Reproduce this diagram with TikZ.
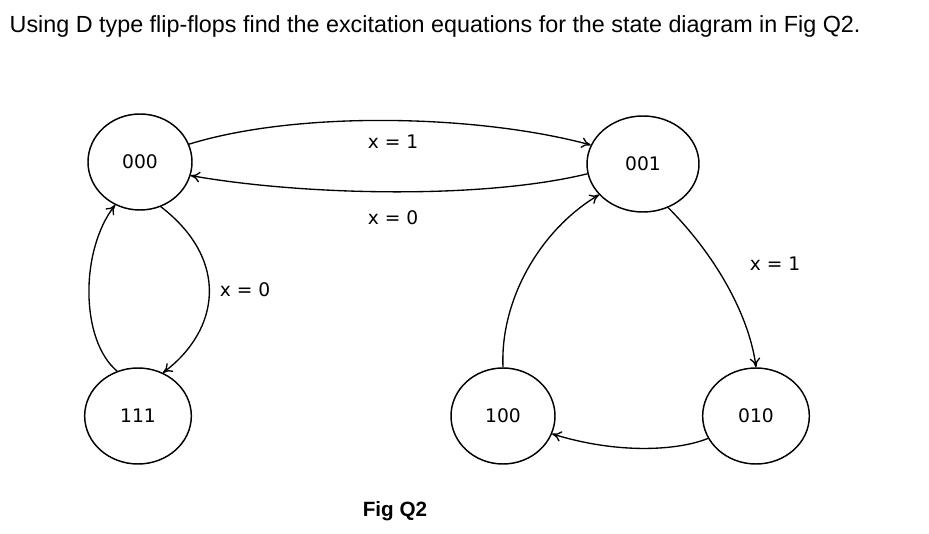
\documentclass[tikz,border=0pt]{standalone}
\usepackage{fontspec}
\setmainfont{Liberation Sans}
\newfontfamily\djv{DejaVu Sans}
\usetikzlibrary{arrows.meta,shapes.geometric}
\begin{document}
\begin{tikzpicture}[x=0.75pt,y=-0.75pt,
  st/.style={draw,line width=1.1pt,ellipse,minimum width=#1,minimum height=72pt,font=\djv\fontsize{14pt}{16pt}\selectfont},
  st/.default=78pt,
  ed/.style={line width=1pt,-{To[length=7pt,width=8pt]}},
  lb/.style={font=\djv\fontsize{14pt}{16pt}\selectfont}]
\useasboundingbox (0,0) rectangle (929,534);
\node[anchor=west,font=\fontsize{17.5pt}{20pt}\selectfont] (t) at (5,26) {Using D type flip-flops find the excitation equations for the state diagram in Fig Q2.};
\node[st=78pt] (a) at (140,162) {000};
\node[st=84pt] (b) at (643,164) {001};
\node[st=80pt] (c) at (138,416) {111};
\node[st=78pt] (d) at (503,416) {100};
\node[st=80pt] (e) at (756,416) {010};
\draw[ed] (a.20) .. controls (300,110) and (480,115) .. (b.160);
\draw[ed] (b.190) .. controls (480,200) and (300,195) .. (a.345);
\draw[ed] (a.295) .. controls (230,260) and (220,330) .. (c.60);
\draw[ed] (c.115) .. controls (80,340) and (80,250) .. (a.240);
\draw[ed] (b.300) .. controls (720,260) and (750,320) .. (e.90);
\draw[ed] (e.205) .. controls (680,450) and (620,455) .. (d.340);
\draw[ed] (d.90) .. controls (500,300) and (540,230) .. (b.215);
\node[lb] (l1) at (393,142) {x = 1};
\node[lb] (l2) at (393,218) {x = 0};
\node[lb] (l3) at (245,290) {x = 0};
\node[lb] (l4) at (775,264) {x = 1};
\node[font=\bfseries\fontsize{15.5pt}{18pt}\selectfont] (f) at (395,511) {Fig Q2};
\end{tikzpicture}
\end{document}
